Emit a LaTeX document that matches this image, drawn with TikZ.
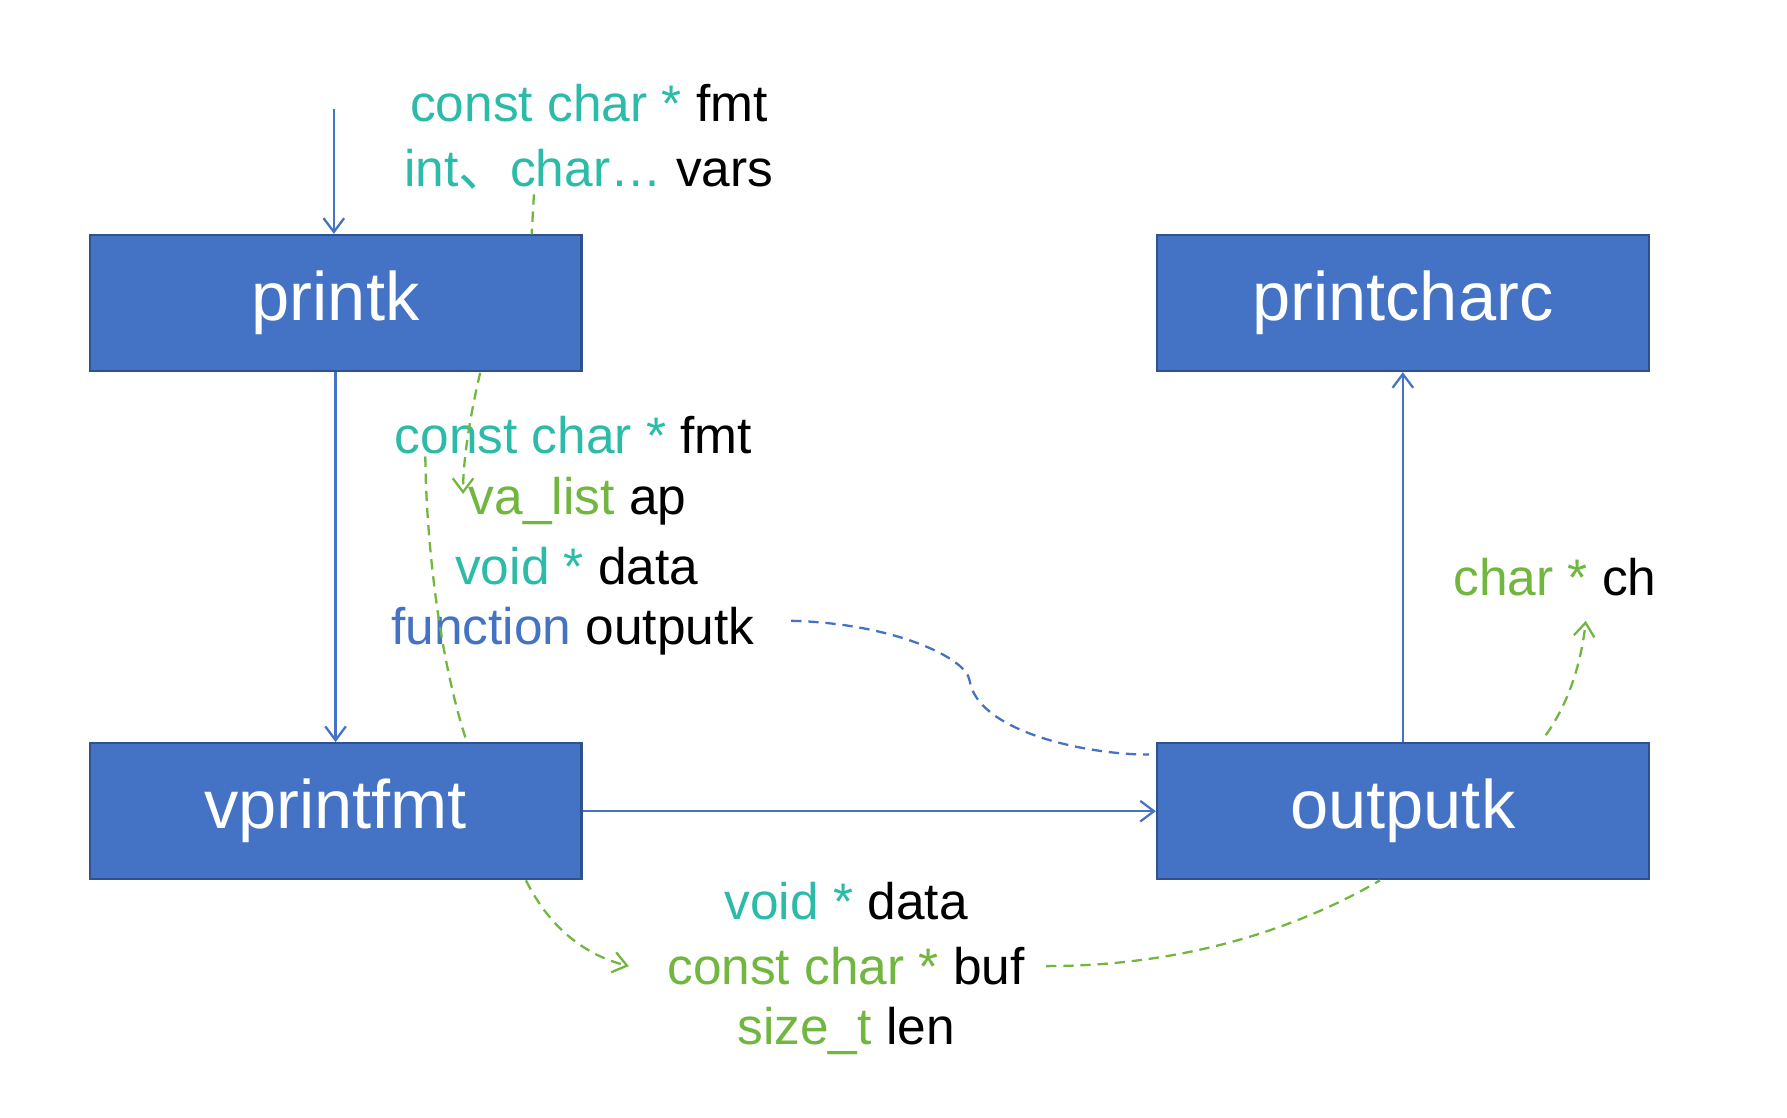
\documentclass[tikz,border=0pt]{standalone}
\usepackage{fontspec}
\setmainfont{Liberation Sans}
\newfontfamily\cjk{Noto Sans CJK SC}
\usetikzlibrary{arrows.meta}
\definecolor{boxfill}{HTML}{4472C4}
\definecolor{boxdraw}{HTML}{2F528F}
\definecolor{teal}{HTML}{2BBBA8}
\definecolor{grn}{HTML}{70B63F}
\definecolor{blu}{HTML}{4472C4}
\begin{document}
\begin{tikzpicture}[x=1pt,y=-1pt,
  box/.style={draw=boxdraw,line width=2pt,fill=boxfill,minimum width=430pt,minimum height=119pt,inner sep=0pt,text=white,font=\fontsize{60}{60}\selectfont},
  lbl/.style={inner sep=0pt,anchor=center,font=\fontsize{45}{45}\selectfont},
  flow/.style={draw=blu,line width=2pt,-{Straight Barb[length=12pt,width=18pt]}},
  gd/.style={draw=grn,line width=2pt,dash pattern=on 9pt off 6pt},
  bd/.style={draw=blu,line width=2pt,dash pattern=on 9pt off 6pt},
  gtip/.style={-{Straight Barb[length=12pt,width=18pt]}}]
\useasboundingbox (0,0) rectangle (1563,977);
\node[box] (printk) at (293.5,265) {printk};
\node[box] (printcharc) at (1227,265) {printcharc};
\node[box] (vprintfmt) at (293.5,709.5) {vprintfmt};
\node[box] (outputk) at (1227,709.5) {outputk};
\coordinate (start) at (292,95);
\draw[flow] (start) -- (printk.north -| start);
\draw[flow] (printk) -- (vprintfmt);
\draw[flow] (vprintfmt) -- (outputk);
\draw[flow] (outputk) -- (printcharc);
% top labels
\node[lbl] (t1) at (515,90) {\textcolor{teal}{const char *} fmt};
\node[lbl] (t2) at (515,148) {\textcolor{teal}{int{\cjk 、}char…} vars};
\coordinate (t2b) at (467,170);
\draw[gd] (t2b) -- (465,205);
% middle labels
\node[lbl,anchor=west] (m1) at (345,381) {\textcolor{teal}{const char *} fmt};
\node[lbl,anchor=west] (m2) at (410,438) {\textcolor{grn}{va\_list} ap};
\node[lbl,anchor=west] (m3) at (398,495) {\textcolor{teal}{void *} data};
\node[lbl,anchor=west] (m4) at (342,552) {\textcolor{blu}{function} outputk};
\coordinate (pk1) at (420,326);
\coordinate (va) at (405,432);
\draw[gd,gtip] (pk1) .. controls (412,360) and (405,400) .. (va);
\coordinate (vp1) at (407,645);
\coordinate (cc) at (372,395);
\draw[gd] (vp1) .. controls (380,560) and (372,450) .. (cc);
\coordinate (fo) at (692,543);
\coordinate (ok1) at (1005,660);
\draw[bd] (fo) .. controls (780,545) and (845,575) .. (848,595) .. controls (855,640) and (950,660) .. (ok1);
% right label
\node[lbl] (ch) at (1360,505) {\textcolor{grn}{char *} ch};
\coordinate (ok2) at (1352,643);
\coordinate (cht) at (1387,543);
\draw[gd,gtip] (ok2) .. controls (1372,615) and (1383,580) .. (cht);
% bottom labels
\node[lbl] (b1) at (740,788) {\textcolor{teal}{void *} data};
\node[lbl] (b2) at (740,845) {\textcolor{grn}{const char *} buf};
\node[lbl] (b3) at (740,902) {\textcolor{grn}{size\_t} len};
\coordinate (vp2) at (460,770);
\coordinate (b2l) at (550,845);
\draw[gd,gtip] (vp2) .. controls (480,810) and (510,835) .. (b2l);
\coordinate (b2r) at (915,845);
\coordinate (ok3) at (1207,770);
\draw[gd] (b2r) .. controls (1030,845) and (1130,815) .. (ok3);
\end{tikzpicture}
\end{document}
